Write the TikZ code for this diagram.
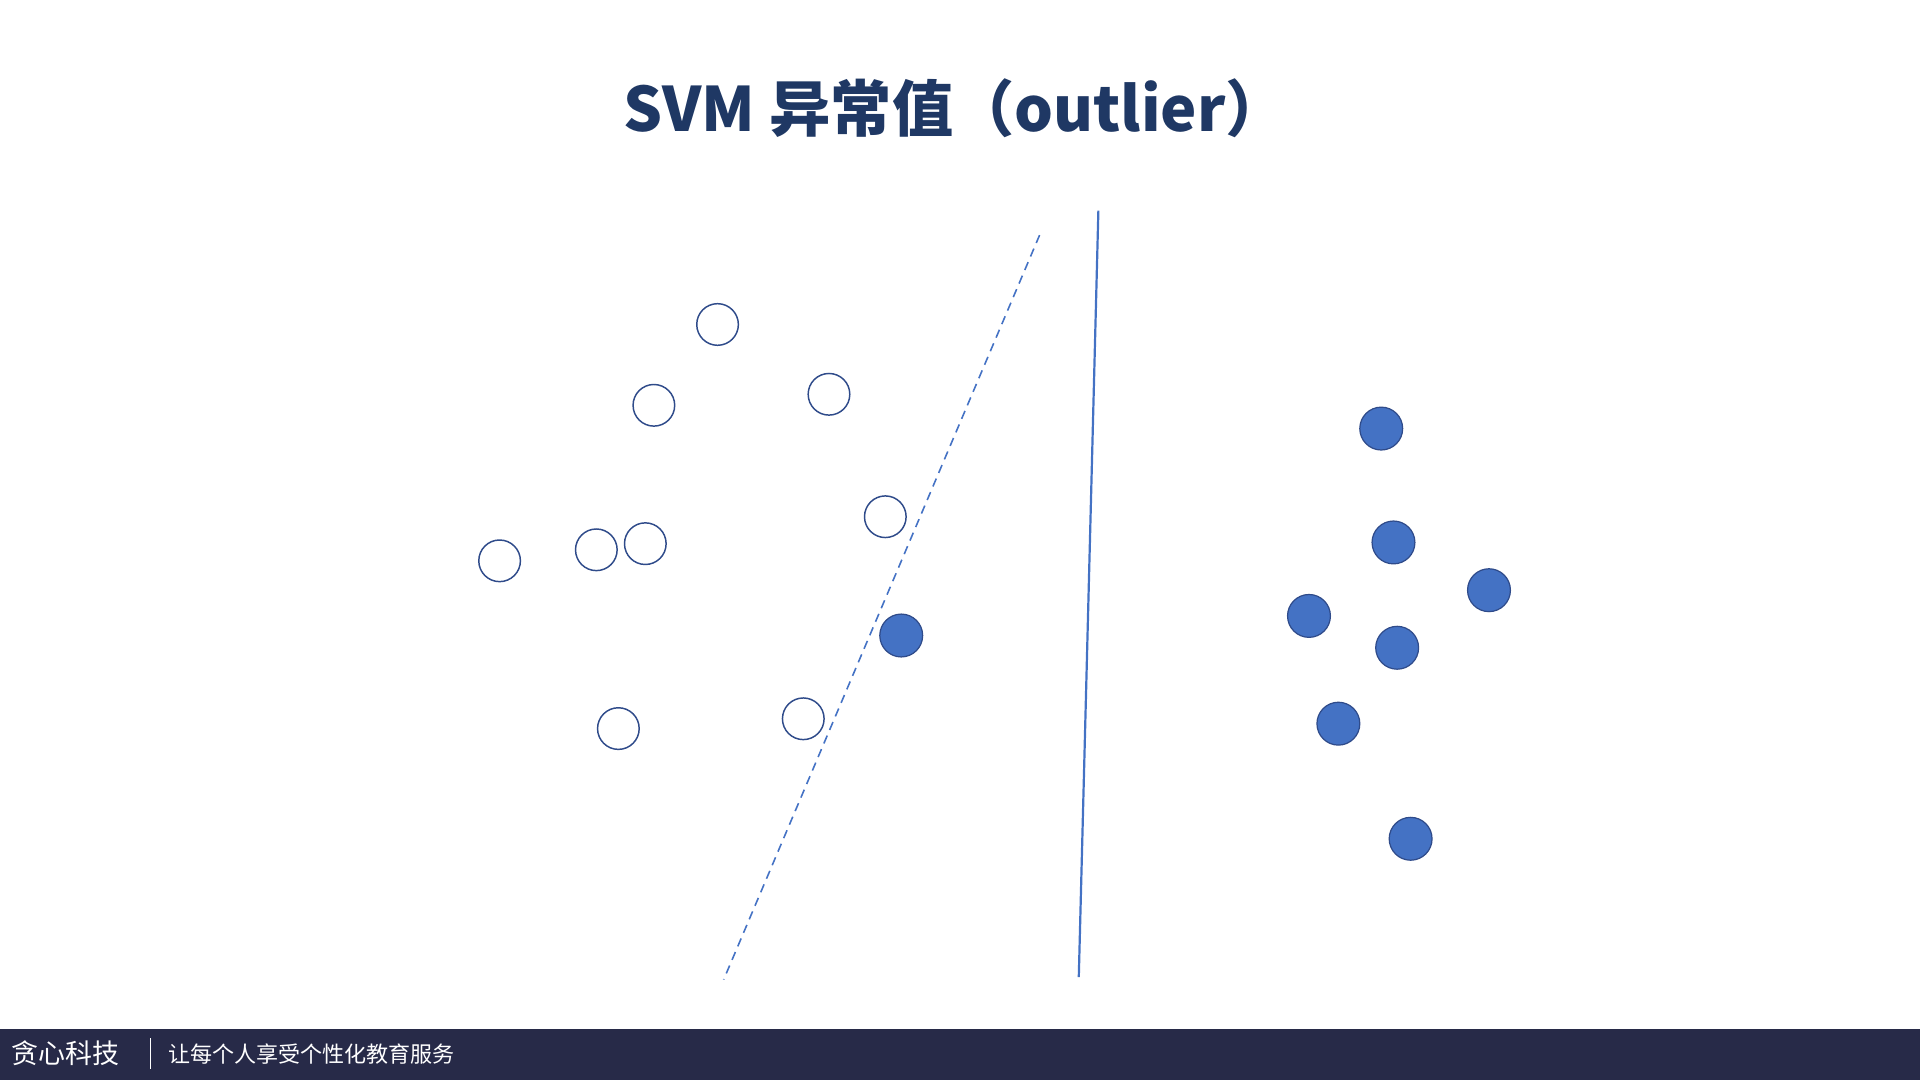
\documentclass[tikz,border=0pt]{standalone}
\usepackage{fontspec}
\newfontfamily\cjk{Noto Sans CJK SC}
\definecolor{navy}{HTML}{1F3864}
\definecolor{pt}{HTML}{4472C4}
\definecolor{ptd}{HTML}{2F4B8A}
\definecolor{bar}{HTML}{272A48}
\begin{document}
\begin{tikzpicture}[x=1pt,y=-1pt,
  opn/.style={circle,draw=ptd,line width=1.2pt,fill=white,minimum size=34pt,inner sep=0pt},
  fil/.style={circle,draw=ptd,line width=1pt,fill=pt,minimum size=35pt,inner sep=0pt}]
\useasboundingbox (0,0) rectangle (1568,882);
\fill[bar] (0,840) rectangle (1568,882);
\node[text=navy,font=\cjk\bfseries\fontsize{50}{56}\selectfont] (title) at (780,88) {SVM 异常值（outlier）};
\coordinate (d1) at (849,192); \coordinate (d2) at (591,800);
\coordinate (s1) at (897,172); \coordinate (s2) at (881,798);
\draw[pt,line width=1.3pt,dash pattern=on 7pt off 5pt] (d1) -- (d2);
\draw[pt,line width=1.8pt] (s1) -- (s2);
\foreach \x/\y [count=\i] in {586/265,534/331,677/322,723/422,408/458,487/449,527/444,505/595,656/587}
  \node[opn] (o\i) at (\x,\y) {};
\foreach \x/\y [count=\i] in {736/519,1128/350,1138/443,1216/482,1069/503,1141/529,1093/591,1152/685}
  \node[fil] (f\i) at (\x,\y) {};
\node[anchor=west,text=white,font=\cjk\fontsize{22}{26}\selectfont] (brand) at (6,860) {贪心科技};
\node[anchor=west,text=white,font=\cjk\fontsize{18}{22}\selectfont] (slogan) at (134,861) {让每个人享受个性化教育服务};
\draw[white,line width=1.2pt] (123,848) -- (123,873);
\end{tikzpicture}
\end{document}
